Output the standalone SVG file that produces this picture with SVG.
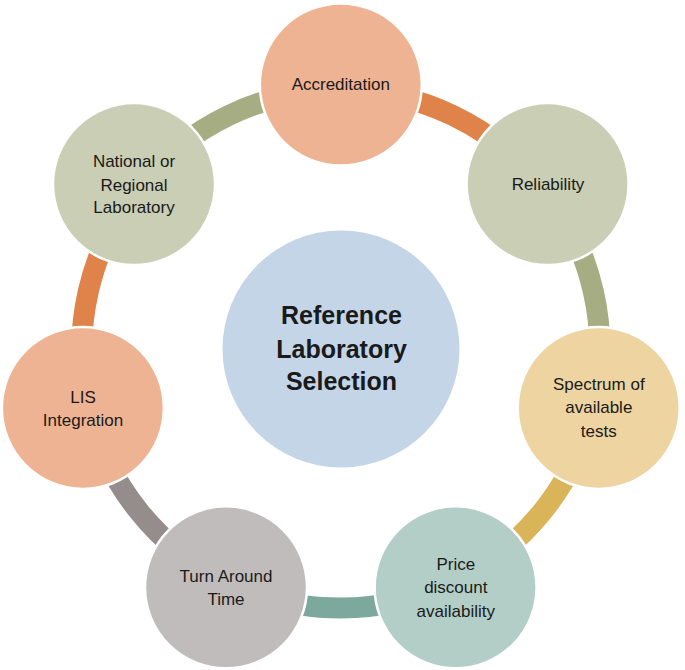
<svg xmlns="http://www.w3.org/2000/svg" width="685" height="670" viewBox="0 0 685 670">
<style>
.link{fill:none;stroke-width:21}
.node{stroke:#ffffff;stroke-width:2.5}
.lbl{font-family:"Liberation Sans",Arial,sans-serif;font-size:17px;fill:#1a1a1a;text-anchor:middle}
.ctr{font-family:"Liberation Sans",Arial,sans-serif;font-size:25px;font-weight:bold;fill:#1a1a1a;text-anchor:middle}
</style>
<rect width="685" height="670" fill="#ffffff"/>
<g id="connectors">
<path class="link" stroke="#E0834A" d="M340.8,90 A259,259 0 0 1 543.3,187.5"/>
<path class="link" stroke="#A6AD82" d="M543.3,187.5 A259,259 0 0 1 593.3,406.6"/>
<path class="link" stroke="#D9B459" d="M593.3,406.6 A259,259 0 0 1 453.2,582.4"/>
<path class="link" stroke="#7DA99C" d="M453.2,582.4 A259,259 0 0 1 228.4,582.4"/>
<path class="link" stroke="#958C8C" d="M228.4,582.4 A259,259 0 0 1 88.3,406.6"/>
<path class="link" stroke="#E0834A" d="M88.3,406.6 A259,259 0 0 1 138.3,187.5"/>
<path class="link" stroke="#A6AD82" d="M138.3,187.5 A259,259 0 0 1 340.8,90"/>
</g>
<g id="center">
<circle cx="341" cy="349" r="118.5" fill="#C3D5E7"/>
<text class="ctr" x="341.5" y="324">Reference</text>
<text class="ctr" x="341.5" y="357.5">Laboratory</text>
<text class="ctr" x="341.5" y="390">Selection</text>
</g>
<g id="accreditation">
<circle class="node" cx="340.8" cy="84.5" r="81" fill="#EEB393"/>
<text class="lbl" x="340.8" y="90">Accreditation</text>
</g>
<g id="reliability">
<circle class="node" cx="547.6" cy="184.1" r="81" fill="#C9CEB4"/>
<text class="lbl" x="548" y="190">Reliability</text>
</g>
<g id="spectrum">
<circle class="node" cx="598.7" cy="407.9" r="81" fill="#EDD4A0"/>
<text class="lbl" x="598.8" y="390">Spectrum of</text>
<text class="lbl" x="598.8" y="413.3">available</text>
<text class="lbl" x="598.8" y="436.5">tests</text>
</g>
<g id="price">
<circle class="node" cx="455.6" cy="587.3" r="81" fill="#B3CEC6"/>
<text class="lbl" x="455.8" y="570">Price</text>
<text class="lbl" x="455.8" y="593.3">discount</text>
<text class="lbl" x="455.8" y="616.7">availability</text>
</g>
<g id="turnaround">
<circle class="node" cx="226" cy="587.3" r="81" fill="#C1BCBC"/>
<text class="lbl" x="226" y="581.7">Turn Around</text>
<text class="lbl" x="226" y="605">Time</text>
</g>
<g id="lis">
<circle class="node" cx="82.9" cy="407.9" r="81" fill="#EEB393"/>
<text class="lbl" x="83" y="403.3">LIS</text>
<text class="lbl" x="83" y="426.3">Integration</text>
</g>
<g id="national">
<circle class="node" cx="134" cy="184.1" r="81" fill="#C9CEB4"/>
<text class="lbl" x="134" y="167.3">National or</text>
<text class="lbl" x="134" y="190.7">Regional</text>
<text class="lbl" x="134" y="213.3">Laboratory</text>
</g>
</svg>
